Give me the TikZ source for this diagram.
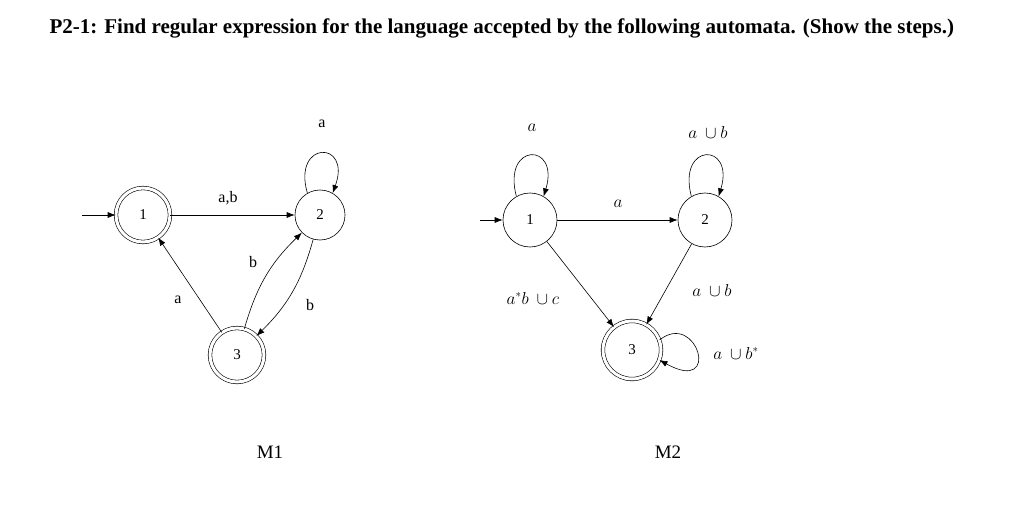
\documentclass[tikz,border=0pt]{standalone}
\usepackage{fontspec}
\setmainfont{Liberation Serif}
\usetikzlibrary{arrows.meta}
\begin{document}
\begin{tikzpicture}[x=1pt,y=-1pt,
 st/.style={circle,draw,line width=0.6pt,minimum size=50pt,inner sep=0pt,font=\fontsize{15}{17}\selectfont},
 acc/.style={st,double,double distance=3pt,minimum size=54pt},
 ar/.style={draw,line width=0.6pt,-{Latex[length=8pt,width=6pt]}},
 lb/.style={font=\fontsize{16}{18}\selectfont}]
\useasboundingbox (0,0) rectangle (1024,521);
\node[anchor=west,font=\bfseries\fontsize{21}{25}\selectfont] (t) at (46,28) {P2-1: Find regular expression for the language accepted by the following automata. (Show the steps.)};
% M1
\node[acc] (a1) at (143,215) {1};
\node[st] (a2) at (320,215) {2};
\node[acc] (a3) at (237,355) {3};
\coordinate (s1) at (82,215);
\draw[ar] (s1) -- (a1);
\draw[ar] (a1) -- (a2);
\node[lb] (lab) at (228,198) {a,b};
\draw[ar] (a3) -- (a1);
\node[lb] (la) at (178,300) {a};
\draw[ar] (a3) to[bend left=15] (a2);
\node[lb] (lb1) at (253,262) {b};
\draw[ar] (a2) to[bend left=15] (a3);
\node[lb] (lb2) at (310,305) {b};
\draw[ar] (a2.120) .. controls (292,140) and (352,140) .. (a2.60);
\node[lb] (l2) at (322,124) {a};
\node[font=\fontsize{19}{22}\selectfont] (m1) at (270,452) {M1};
% M2
\node[st,minimum size=54pt] (b1) at (530,220) {1};
\node[st,minimum size=54pt] (b2) at (705,220) {2};
\node[acc,minimum size=58pt] (b3) at (632,350) {3};
\coordinate (s2) at (480,220);
\draw[ar] (s2) -- (b1);
\draw[ar] (b1) -- (b2);
\node[lb] (la2) at (618,204) {$a$};
\draw[ar] (b1) -- (b3);
\node[lb] (lc) at (533,298) {$a^{*}b\ \cup c$};
\draw[ar] (b2) -- (b3);
\node[lb] (lu) at (712,290) {$a\ \cup b$};
\draw[ar] (b1.120) .. controls (502,142) and (560,142) .. (b1.60);
\draw[ar] (b2.120) .. controls (677,142) and (735,142) .. (b2.60);
\draw[ar] (b3.20) .. controls (697,310) and (722,395) .. (b3.-20);
\node[lb] (l1) at (532,128) {$a$};
\node[lb] (l3) at (708,133) {$a\ \cup b$};
\node[lb] (l4) at (736,353) {$a\ \cup b^{*}$};
\node[font=\fontsize{19}{22}\selectfont] (m2) at (668,452) {M2};
\end{tikzpicture}
\end{document}
